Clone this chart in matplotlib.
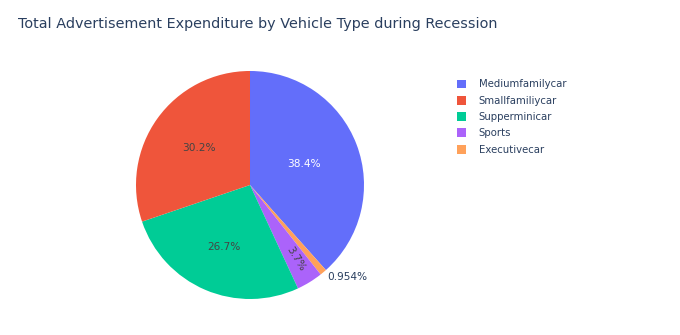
import numpy as np
import matplotlib
matplotlib.use("Agg")
import matplotlib.pyplot as plt
from matplotlib.patches import Patch

plt.rcParams["font.family"] = ["DejaVu Sans"]

# legend order (descending share)
labels = ["Mediumfamilycar", "Smallfamiliycar", "Supperminicar", "Sports", "Executivecar"]
shares = [38.4, 30.2, 26.7, 3.72, 0.954]
colors = ["#636EFA", "#EF553B", "#00CC96", "#AB63FA", "#FFA15A"]
# clockwise drawing order from 12 o'clock, as in the reference
draw_order = [0, 4, 3, 2, 1]

TXT = "#2a3f5f"
FS = 7.3

fig = plt.figure(figsize=(6.8, 3.35), dpi=100)
ax = fig.add_axes([0.2, 0.1075, 0.3353, 0.6806])

vals = [shares[i] for i in draw_order]
cols = [colors[i] for i in draw_order]
wedges, _ = ax.pie(vals, colors=cols, startangle=90, counterclock=False,
                   wedgeprops=dict(linewidth=0))
ax.set_aspect("equal")
ax.set_xlim(-1, 1)
ax.set_ylim(-1, 1)

total = sum(vals)
for w, i, v in zip(wedges, draw_order, vals):
    mid = np.deg2rad((w.theta1 + w.theta2) / 2)
    pct = 100 * v / total
    name = labels[i]
    if name == "Executivecar":
        ax.text(1.05 * np.cos(mid), 1.05 * np.sin(mid), f"{pct:.3g}%",
                ha="left", va="center", fontsize=FS + 0.3, color=TXT)
    elif name == "Sports":
        ang = np.rad2deg(mid)
        ax.text(0.76 * np.cos(mid), 0.76 * np.sin(mid), f"{pct:.2g}%",
                ha="center", va="center", rotation=ang, fontsize=FS + 0.3,
                color="#444444", rotation_mode="anchor")
    else:
        r = {"Mediumfamilycar": 0.51, "Smallfamiliycar": 0.55, "Supperminicar": 0.59}[name]
        ax.text(r * np.cos(mid), r * np.sin(mid), f"{pct:.3g}%",
                ha="center", va="center", fontsize=FS + 0.3,
                color="white" if name == "Mediumfamilycar" else "#444444")

handles = [Patch(facecolor=c, edgecolor="none") for c in colors]
fig.legend(handles, labels, loc="upper left", bbox_to_anchor=(0.658, 0.79),
           frameon=False, fontsize=FS, handlelength=0.95, handleheight=0.95,
           handletextpad=1.25, labelspacing=0.62, labelcolor=TXT)

fig.text(18 / 680, 1 - 24 / 335, "Total Advertisement Expenditure by Vehicle Type during Recession",
         ha="left", va="center", fontsize=10.4, color=TXT)

fig.savefig("out.png", dpi=100)
